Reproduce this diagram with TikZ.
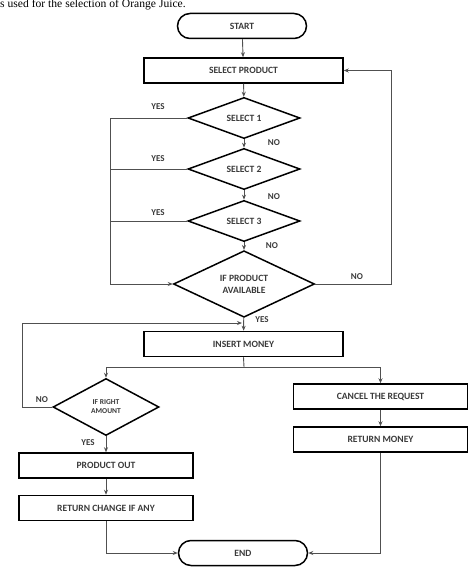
\documentclass[tikz,border=0pt]{standalone}
\usepackage{fontspec}
\setmainfont{Liberation Serif}
\newfontfamily\lbl{Carlito}
\usetikzlibrary{shapes.geometric,arrows.meta}
\definecolor{txt}{HTML}{3A3A3A}
\definecolor{conn}{HTML}{505050}
\begin{document}
\begin{tikzpicture}[x=1pt,y=-1pt,
  box/.style={draw=black,line width=1.5pt,minimum width=199pt,minimum height=25pt,inner sep=0pt,font=\lbl\bfseries\fontsize{9.6}{10}\selectfont,text=txt},
  sbox/.style={box,minimum width=174pt},
  term/.style={draw=black,line width=1.5pt,rounded corners=12.5pt,minimum width=129pt,minimum height=25pt,inner sep=0pt,font=\lbl\bfseries\fontsize{9.6}{10}\selectfont,text=txt},
  dec/.style={diamond,draw=black,line width=1.5pt,inner sep=0pt,font=\lbl\bfseries\fontsize{9.6}{10}\selectfont,text=txt,align=center},
  conn/.style={draw=conn,line width=0.9pt},
  arr/.style={conn,-{Stealth[length=5pt,width=4pt]}},
  lab/.style={font=\lbl\bfseries\fontsize{9}{10}\selectfont,text=txt,inner sep=0pt}]
\useasboundingbox (0,0) rectangle (474,567);
\node[anchor=base west,inner sep=0pt,font=\fontsize{11.6}{13}\selectfont] (cap) at (0,8) {s used for the selection of Orange Juice.};

\node[term] (start) at (242,26) {START};
\node[box] (sp) at (243.5,70.5) {SELECT PRODUCT};
\node[dec,minimum width=112pt,minimum height=33pt] (s1) at (244,118) {SELECT 1};
\node[dec,minimum width=112pt,minimum height=33pt] (s2) at (244,169) {SELECT 2};
\node[dec,minimum width=112pt,minimum height=33pt] (s3) at (244,221) {SELECT 3};
\node[dec,minimum width=141pt,minimum height=59pt] (av) at (244,284) {IF PRODUCT\\[2pt]AVAILABLE};
\node[box] (im) at (243.5,344) {INSERT MONEY};
\node[dec,minimum width=106pt,minimum height=57pt,font=\lbl\bfseries\fontsize{7.5}{8}\selectfont] (ra) at (106,407) {IF RIGHT\\[1pt]AMOUNT};
\node[sbox] (cr) at (380.5,396.5) {CANCEL THE REQUEST};
\node[sbox] (rm) at (380.5,439.5) {RETURN MONEY};
\node[sbox] (po) at (106,465.5) {PRODUCT OUT};
\node[sbox] (rc) at (106,508) {RETURN CHANGE IF ANY};
\node[term] (end) at (243,553) {END};

\coordinate (L1) at (110,118);
\coordinate (R1) at (391,284);
\coordinate (br) at (244,367);
\coordinate (lp) at (22,407);
\coordinate (lpe) at (242,323);

\draw[arr] (start) -- (sp);
\draw[arr] (sp) -- (s1);
\draw[arr] (s1) -- (s2);
\draw[arr] (s2) -- (s3);
\draw[arr] (s3) -- (av);
\draw[arr] (s1.west) -- (L1) |- (av.west);
\draw[conn] (s2.west) -- (s2.west -| L1);
\draw[conn] (s3.west) -- (s3.west -| L1);
\draw[arr] (av.east) -- (R1) |- (sp.east);
\draw[arr] (av) -- (im);
\draw[arr] (ra.west) -- (lp) |- (lpe);
\draw[conn] (im.south) -- (br);
\draw[arr] (br) -| (ra.north);
\draw[arr] (br) -| (cr.north);
\draw[arr] (cr) -- (rm);
\draw[arr] (ra) -- (po);
\draw[arr] (po) -- (rc);
\draw[arr] (rc.south) |- (end.west);
\draw[arr] (rm.south) |- (end.east);

\node[lab] (y1) at (158,107) {YES};
\node[lab] (y2) at (158,159) {YES};
\node[lab] (y3) at (158,213) {YES};
\node[lab] (n1) at (274,143) {NO};
\node[lab] (n2) at (274,197) {NO};
\node[lab] (n3) at (272,246) {NO};
\node[lab] (n4) at (357,277) {NO};
\node[lab] (y4) at (262,320) {YES};
\node[lab] (n5) at (42,400) {NO};
\node[lab] (y5) at (88,443) {YES};
\end{tikzpicture}
\end{document}
